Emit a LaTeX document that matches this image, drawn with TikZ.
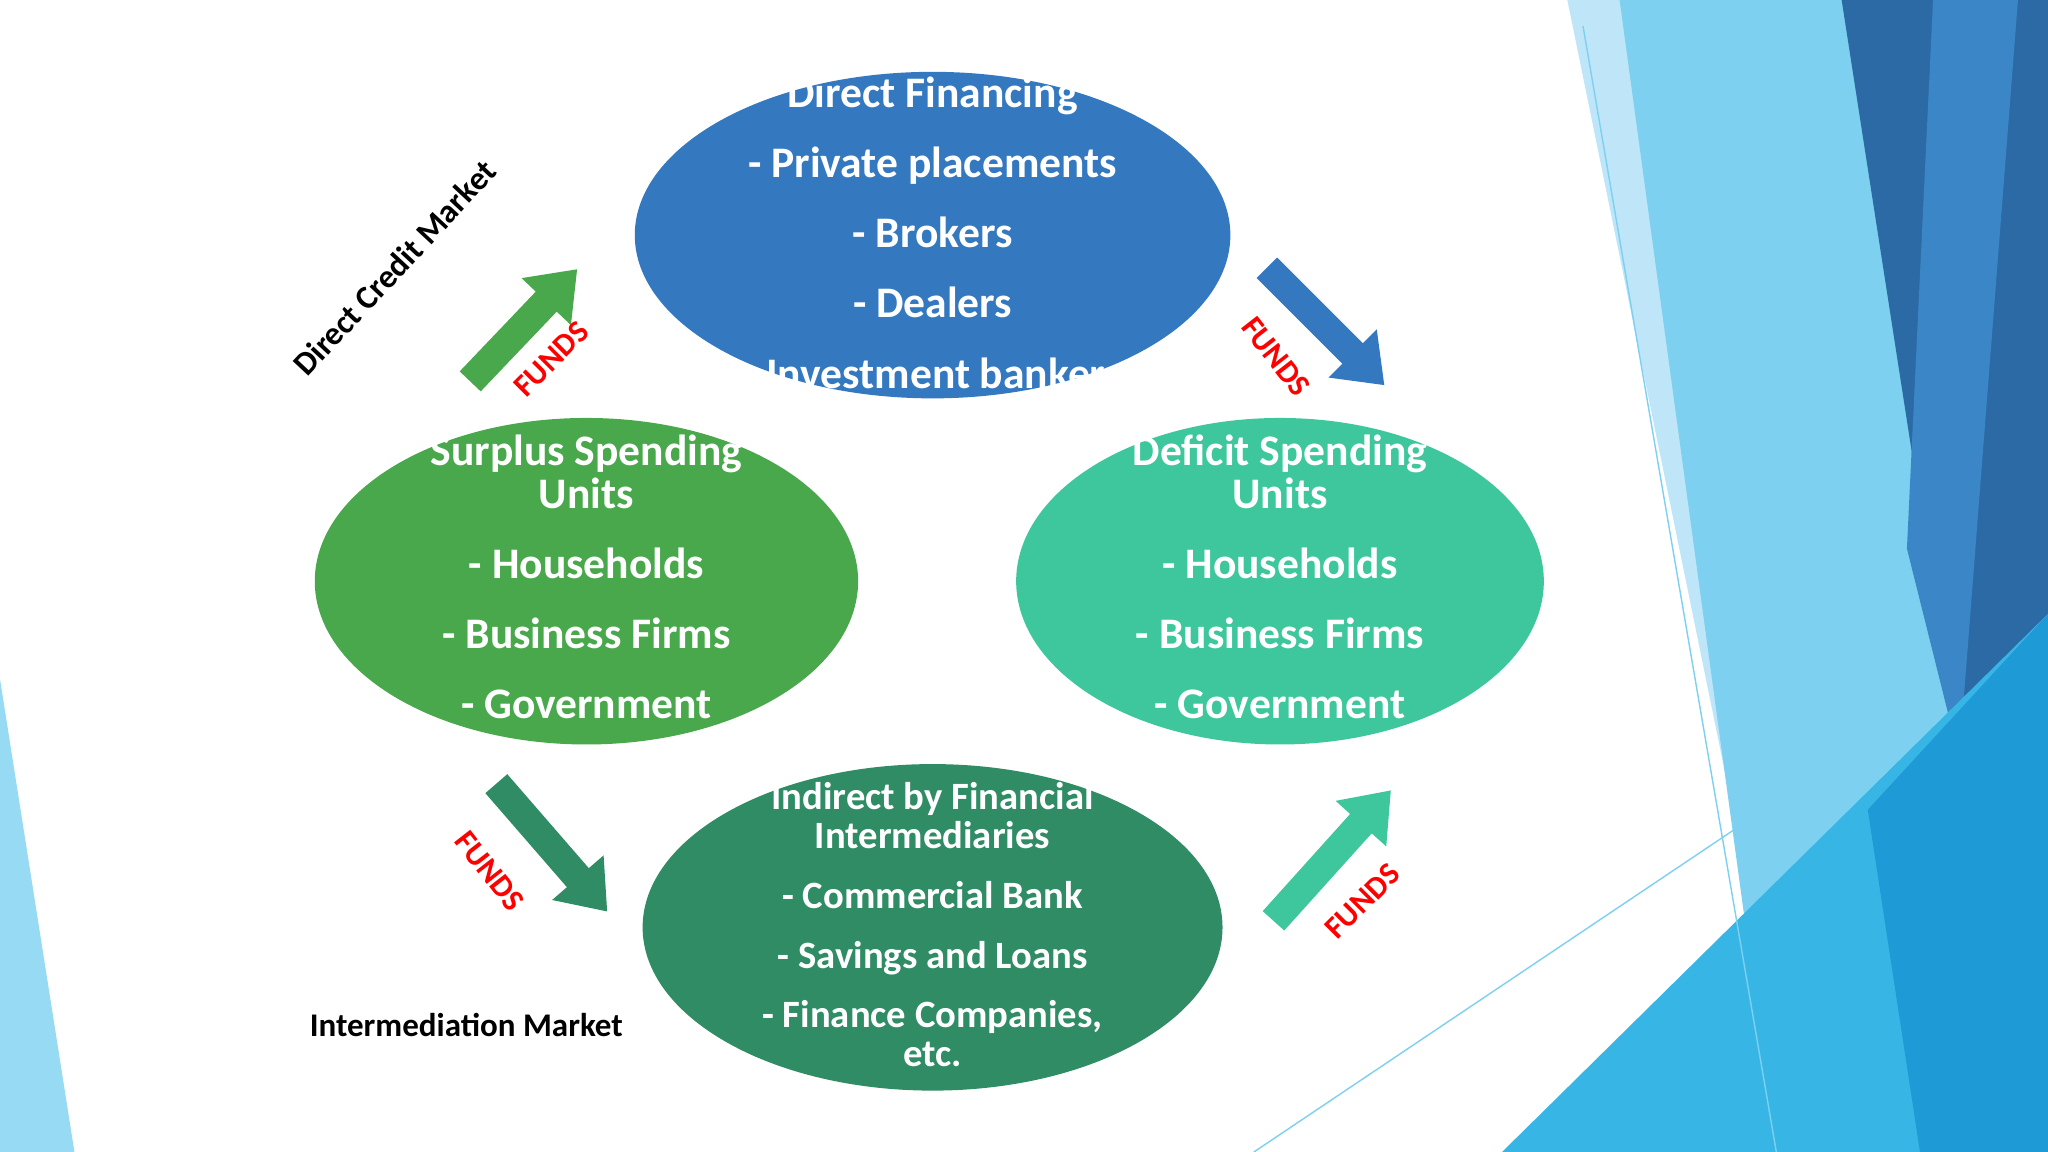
\documentclass[tikz,border=0pt]{standalone}
\usepackage{fontspec}
\setmainfont{Carlito}
\usetikzlibrary{arrows.meta}
\definecolor{cblue}{HTML}{3479C0}
\definecolor{cgreen}{HTML}{49A84B}
\definecolor{cteal}{HTML}{3EC79C}
\definecolor{cdark}{HTML}{2F8C65}
\definecolor{bg1}{HTML}{BFE6F8}
\definecolor{bg2}{HTML}{7DD0F0}
\definecolor{bg3}{HTML}{2C6AA6}
\definecolor{bg4}{HTML}{3B86C6}
\definecolor{bg5}{HTML}{37B6E6}
\definecolor{bg6}{HTML}{1E9AD6}
\tikzset{
 etxt/.style={text=white, font=\fontsize{12.4}{16}\selectfont\bfseries, align=center},
 btxt/.style={text=white, font=\fontsize{11}{14}\selectfont\bfseries, align=center},
 fund/.style={line width=0.29cm, -{Triangle[length=0.45cm,width=0.65cm]}, draw=#1},
 flab/.style={text=red, font=\fontsize{9}{10}\selectfont\bfseries, inner sep=0pt},
 mlab/.style={text=black, font=\fontsize{9.4}{10}\selectfont\bfseries, inner sep=0pt},
}
\begin{document}
\begin{tikzpicture}[x=0.013061cm,y=-0.013061cm]
\useasboundingbox (0,0) rectangle (1568,882);
\fill[white] (0,0) rectangle (1568,882);
% background
\fill[bg2!80!white] (0,520) -- (57,882) -- (0,882) -- cycle;
\fill[bg1] (1200,0) -- (1420,0) -- (1568,620) -- (1568,882) -- (1380,882) -- cycle;
\fill[bg2] (1240,0) -- (1420,0) -- (1500,580) -- (1430,882) -- (1360,882) -- cycle;
\fill[bg3] (1410,0) -- (1568,0) -- (1568,480) -- (1500,580) -- cycle;
\fill[bg4] (1480,0) -- (1545,0) -- (1500,580) -- (1460,420) -- cycle;
\fill[bg5] (1150,882) -- (1568,470) -- (1568,882) -- cycle;
\fill[bg6] (1430,620) -- (1568,470) -- (1568,882) -- (1470,882) -- cycle;
\draw[bg2, thin] (1212,20) -- (1360,882);
\draw[bg2, thin] (960,882) -- (1410,580);
% ellipses
\fill[cblue] (714,180) ellipse [x radius=228, y radius=125];
\fill[cgreen] (449,445) ellipse [x radius=208, y radius=125];
\fill[cteal] (980,445) ellipse [x radius=202, y radius=125];
\fill[cdark] (714,710) ellipse [x radius=222, y radius=125];
\node[etxt] (top) at (714,178) {Direct Financing\\[4pt]- Private placements\\[4pt]- Brokers\\[4pt]- Dealers\\[4pt]- Investment bankers};
\node[etxt] (left) at (449,442) {Surplus Spending\\[-4pt]Units\\[4pt]- Households\\[4pt]- Business Firms\\[4pt]- Government};
\node[etxt] (right) at (980,442) {Deficit Spending\\[-4pt]Units\\[4pt]- Households\\[4pt]- Business Firms\\[4pt]- Government};
\node[btxt] (bot) at (714,708) {Indirect by Financial\\[-3pt]Intermediaries\\[3pt]- Commercial Bank\\[3pt]- Savings and Loans\\[3pt]- Finance Companies,\\[-3pt]etc.};
% arrows
\coordinate (a1) at (360,292); \coordinate (b1) at (442,206);
\coordinate (a2) at (970,205); \coordinate (b2) at (1060,295);
\coordinate (a3) at (380,600); \coordinate (b3) at (465,698);
\coordinate (a4) at (975,705); \coordinate (b4) at (1065,605);
\draw[fund=cgreen] (a1) -- (b1);
\draw[fund=cblue] (a2) -- (b2);
\draw[fund=cdark] (a3) -- (b3);
\draw[fund=cteal] (a4) -- (b4);
\node[flab, rotate=45] (f1) at (422,275) {FUNDS};
\node[flab, rotate=-52] (f2) at (977,273) {FUNDS};
\node[flab, rotate=-52] (f3) at (375,667) {FUNDS};
\node[flab, rotate=45] (f4) at (1043,690) {FUNDS};
\node[mlab, rotate=47] (dcm) at (302,205) {Direct Credit Market};
\node[mlab] (im) at (357,785) {Intermediation Market};
\end{tikzpicture}
\end{document}
